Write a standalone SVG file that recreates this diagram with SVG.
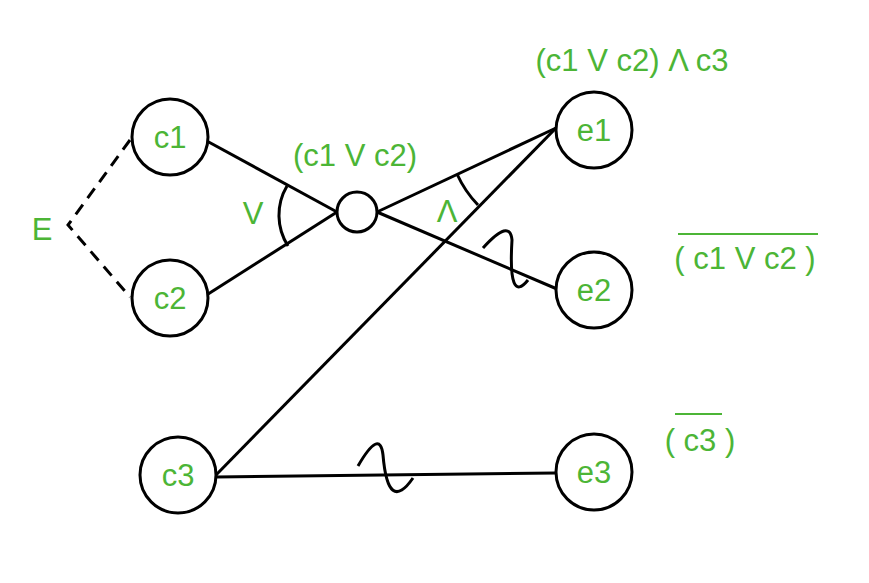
<svg xmlns="http://www.w3.org/2000/svg" width="869" height="583" viewBox="0 0 869 583">
<style>
.n{fill:#fff;stroke:#000;stroke-width:3}
.l{stroke:#000;stroke-width:3;fill:none}
.t{fill:#4cb536;font-family:"Liberation Sans",Arial,sans-serif;font-size:31px;text-anchor:middle}
</style>
<rect width="869" height="583" fill="#fff"/>
<g id="connectors">
<line class="l" x1="205" y1="140" x2="337" y2="212"/>
<line class="l" x1="205" y1="296" x2="337" y2="212"/>
<line class="l" x1="377" y1="212" x2="556" y2="128"/>
<line class="l" x1="377" y1="212" x2="557" y2="289"/>
<line class="l" x1="216" y1="475" x2="556" y2="128"/>
<line class="l" x1="216" y1="477" x2="556" y2="473"/>
<path class="l" d="M287,186 A57,57 0 0 0 288,246"/>
<path class="l" d="M457,174 A110,110 0 0 0 478,205"/>
<path class="l" d="M483,248 Q510,218 512,240 Q508,305 528,280"/>
<path class="l" d="M358,466 Q380,428 383,455 Q388,514 413,478"/>
<path class="l" d="M130,140 L68,225 L130,297" stroke-dasharray="12,8"/>
</g>
<g id="c1"><circle class="n" cx="170" cy="137" r="38"/><text class="t" x="170" y="148">c1</text></g>
<g id="c2"><circle class="n" cx="170" cy="298" r="38"/><text class="t" x="170" y="309">c2</text></g>
<g id="c3"><circle class="n" cx="178" cy="475" r="38"/><text class="t" x="178" y="486">c3</text></g>
<g id="e1"><circle class="n" cx="594" cy="130" r="38"/><text class="t" x="594" y="141">e1</text></g>
<g id="e2"><circle class="n" cx="594" cy="290" r="38"/><text class="t" x="594" y="301">e2</text></g>
<g id="e3"><circle class="n" cx="594" cy="472" r="38"/><text class="t" x="594" y="483">e3</text></g>
<g id="mid"><circle class="n" cx="357" cy="212" r="20"/></g>
<g id="labels">
<text class="t" x="42" y="240">E</text>
<text class="t" x="355" y="166">(c1 V c2)</text>
<text class="t" x="253" y="224">V</text>
<text class="t" x="447" y="222">Λ</text>
<text class="t" x="632" y="71">(c1 V c2) Λ c3</text>
<text class="t" x="745" y="269">( c1 V c2 )</text>
<line x1="678" y1="234" x2="818" y2="234" stroke="#4cb536" stroke-width="2"/>
<text class="t" x="700" y="451">( c3 )</text>
<line x1="675" y1="414" x2="722" y2="414" stroke="#4cb536" stroke-width="2"/>
</g>
</svg>
